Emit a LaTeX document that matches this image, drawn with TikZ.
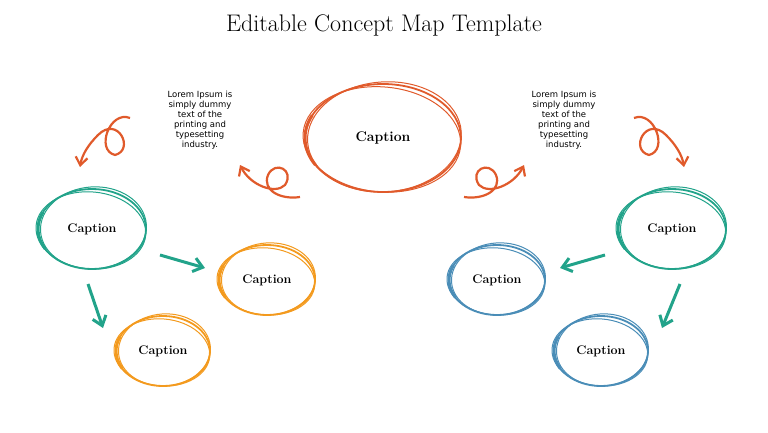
\documentclass[tikz,border=0pt]{standalone}
\usepackage{fontspec}
\newfontfamily\lorem{DejaVu Sans}
\usetikzlibrary{arrows.meta}
\definecolor{cor}{HTML}{E05A2B}
\definecolor{cgr}{HTML}{22A38A}
\definecolor{cye}{HTML}{F39A1E}
\definecolor{cbl}{HTML}{4A8DB7}
\tikzset{
 captext/.style={font=\bfseries\fontsize{12.5}{14}\selectfont},
 lorem/.style={font=\lorem\fontsize{8.5}{10}\selectfont,align=center},
 curl/.style={cor,line width=2.2pt,-{Straight Barb[length=8pt,width=12pt]}},
 garrow/.style={cgr,line width=3pt,-{Straight Barb[length=9pt,width=14pt]}}
}
\newcommand{\sketch}[5]{% x y rx ry color
 \draw[#5,line width=1.8pt] (#1,#2) ellipse [x radius=#3,y radius=#4];
 \draw[#5,line width=1pt,rotate around={4:(#1,#2)}] (#1+1.5,#2-1) ellipse [x radius=#3-1,y radius=#4+1];
 \draw[#5,line width=1pt,rotate around={-5:(#1,#2)}] (#1-1,#2+1.5) ellipse [x radius=#3+1,y radius=#4-1.5];
 \draw[#5,line width=3pt] (#1,#2) ++(150:#3 and #4) arc[start angle=150,end angle=205,x radius=#3,y radius=#4];
}
\begin{document}
\begin{tikzpicture}[x=1pt,y=-1pt]
\useasboundingbox (0,0) rectangle (768,433);
\node (title) at (384,25) {\fontsize{24}{28}\selectfont Editable Concept Map Template};
\sketch{383}{138}{78}{54}{cor}
\node[font=\bfseries\fontsize{14}{16}\selectfont] (c0) at (383,138) {Caption};
\node[lorem] (tl) at (200,120) {Lorem Ipsum is\\simply dummy\\text of the\\printing and\\typesetting\\industry.};
\node[lorem] (tr) at (564,120) {Lorem Ipsum is\\simply dummy\\text of the\\printing and\\typesetting\\industry.};
\sketch{92}{229}{54}{40}{cgr}
\node[captext] (g1) at (92,229) {Caption};
\sketch{672}{229}{54}{40}{cgr}
\node[captext] (g2) at (672,229) {Caption};
\sketch{267}{280}{48}{35}{cye}
\node[captext] (o1) at (267,280) {Caption};
\sketch{163}{351}{47}{35}{cye}
\node[captext] (o2) at (163,351) {Caption};
\sketch{497}{280}{48}{35}{cbl}
\node[captext] (b1) at (497,280) {Caption};
\sketch{601}{351}{47}{35}{cbl}
\node[captext] (b2) at (601,351) {Caption};
\coordinate (a1) at (130,118); \coordinate (a1e) at (80,167);
\draw[curl] (a1) .. controls (110,110) and (95,150) .. (115,155) .. controls (135,150) and (118,115) .. (98,135) .. controls (88,145) and (82,155) .. (a1e);
\coordinate (a2) at (300,197); \coordinate (a2e) at (240,165);
\draw[curl] (a2) .. controls (280,200) and (262,190) .. (268,175) .. controls (275,160) and (295,170) .. (285,185) .. controls (275,195) and (250,185) .. (a2e);
\coordinate (a3) at (464,197); \coordinate (a3e) at (524,165);
\draw[curl] (a3) .. controls (484,200) and (502,190) .. (496,175) .. controls (489,160) and (469,170) .. (479,185) .. controls (489,195) and (514,185) .. (a3e);
\coordinate (a4) at (634,118); \coordinate (a4e) at (684,167);
\draw[curl] (a4) .. controls (654,110) and (669,150) .. (649,155) .. controls (629,150) and (646,115) .. (666,135) .. controls (676,145) and (682,155) .. (a4e);
\coordinate (s1) at (160,255); \coordinate (e1) at (205,268);
\coordinate (s2) at (88,284); \coordinate (e2) at (103,328);
\coordinate (s3) at (605,255); \coordinate (e3) at (560,268);
\coordinate (s4) at (680,284); \coordinate (e4) at (662,328);
\draw[garrow] (s1) -- (e1);
\draw[garrow] (s2) -- (e2);
\draw[garrow] (s3) -- (e3);
\draw[garrow] (s4) -- (e4);
\end{tikzpicture}
\end{document}
